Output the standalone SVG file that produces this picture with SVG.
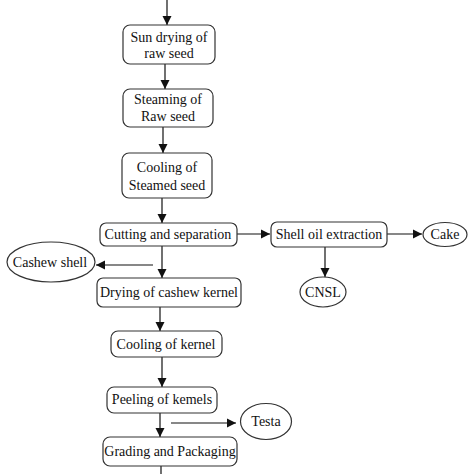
<svg xmlns="http://www.w3.org/2000/svg" width="474" height="474" viewBox="0 0 474 474">
<style>
.box{fill:#fff;stroke:#333;stroke-width:1.2}
.ell{fill:#fff;stroke:#333;stroke-width:1.2}
.t{font-family:"Liberation Serif","Times New Roman",serif;font-size:14px;fill:#111;text-anchor:middle}
.ln{stroke:#111;stroke-width:1.2;fill:none}
</style>
<defs>
<marker id="ah" viewBox="0 0 10 10" refX="10" refY="5" markerWidth="9" markerHeight="10" markerUnits="userSpaceOnUse" orient="auto">
<path d="M0,0 L10,5 L0,10 z" fill="#111"/>
</marker>
</defs>
<rect width="474" height="474" fill="#fff"/>
<g id="connectors">
<line class="ln" x1="167" y1="0" x2="167" y2="25" marker-end="url(#ah)"/>
<line class="ln" x1="165" y1="64" x2="165" y2="89" marker-end="url(#ah)"/>
<line class="ln" x1="163" y1="127" x2="163" y2="153" marker-end="url(#ah)"/>
<line class="ln" x1="162" y1="198" x2="162" y2="223" marker-end="url(#ah)"/>
<line class="ln" x1="237" y1="234" x2="270" y2="234" marker-end="url(#ah)"/>
<line class="ln" x1="387" y1="234" x2="422" y2="234" marker-end="url(#ah)"/>
<line class="ln" x1="325" y1="247" x2="325" y2="277" marker-end="url(#ah)"/>
<line class="ln" x1="162" y1="246" x2="162" y2="278" marker-end="url(#ah)"/>
<line class="ln" x1="153" y1="265" x2="96" y2="265" marker-end="url(#ah)"/>
<line class="ln" x1="160" y1="307" x2="160" y2="331" marker-end="url(#ah)"/>
<line class="ln" x1="162" y1="357" x2="162" y2="387" marker-end="url(#ah)"/>
<line class="ln" x1="160" y1="413" x2="160" y2="437" marker-end="url(#ah)"/>
<line class="ln" x1="171" y1="423" x2="236" y2="423" marker-end="url(#ah)"/>
<line class="ln" x1="161" y1="466" x2="161" y2="474"/>
</g>
<g id="n1"><rect class="box" x="123" y="25" width="92" height="39" rx="7"/><text class="t" x="169" y="42">Sun drying of</text><text class="t" x="169" y="58">raw seed</text></g>
<g id="n2"><rect class="box" x="123" y="89" width="90" height="38" rx="7"/><text class="t" x="168" y="104">Steaming of</text><text class="t" x="168" y="121">Raw seed</text></g>
<g id="n3"><rect class="box" x="122" y="153" width="90" height="45" rx="7"/><text class="t" x="167" y="172">Cooling of</text><text class="t" x="167" y="190">Steamed seed</text></g>
<g id="n4"><rect class="box" x="100" y="223" width="137" height="23" rx="6"/><text class="t" x="168" y="239">Cutting and separation</text></g>
<g id="n5"><rect class="box" x="271" y="222" width="116" height="25" rx="6"/><text class="t" x="329" y="239">Shell oil extraction</text></g>
<g id="n6"><ellipse class="ell" cx="445" cy="234.5" rx="22" ry="12"/><text class="t" x="445" y="239">Cake</text></g>
<g id="n7"><ellipse class="ell" cx="323" cy="292" rx="23" ry="15"/><text class="t" x="323" y="297">CNSL</text></g>
<g id="n8"><ellipse class="ell" cx="51" cy="262" rx="44" ry="20"/><text class="t" x="50" y="267">Cashew shell</text></g>
<g id="n9"><rect class="box" x="97" y="278" width="144" height="29" rx="6"/><text class="t" x="169" y="297">Drying of cashew kernel</text></g>
<g id="n10"><rect class="box" x="111" y="331" width="111" height="26" rx="7"/><text class="t" x="166" y="349">Cooling of kernel</text></g>
<g id="n11"><rect class="box" x="107" y="387" width="110" height="26" rx="7"/><text class="t" x="162" y="404">Peeling of kemels</text></g>
<g id="n12"><ellipse class="ell" cx="266" cy="421.5" rx="25.5" ry="18"/><text class="t" x="266" y="426">Testa</text></g>
<g id="n13"><rect class="box" x="103" y="437" width="134" height="29" rx="7"/><text class="t" x="170" y="456">Grading and Packaging</text></g>
</svg>
